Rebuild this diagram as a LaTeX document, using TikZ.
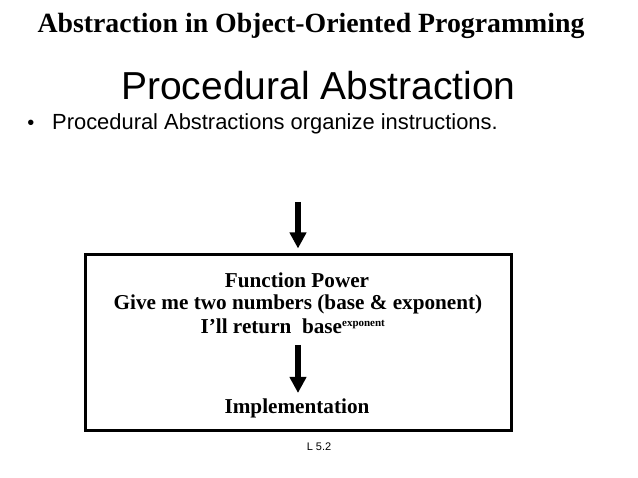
\documentclass[tikz,border=0pt]{standalone}
\usepackage{fontspec}
\setmainfont{Liberation Serif}
\setsansfont{Liberation Sans}
\usetikzlibrary{arrows.meta}
\begin{document}
\begin{tikzpicture}[x=1pt,y=1pt,
  bigarrow/.style={line width=6pt,-{Triangle[width=16pt,length=16pt]}},
  boxtext/.style={font=\fontsize{21.2}{23}\selectfont\bfseries\rmfamily,inner sep=0pt,anchor=base}]
\useasboundingbox (0,0) rectangle (638,-478);
\node[inner sep=0pt,anchor=base,font=\fontsize{27.8}{30}\selectfont\bfseries\rmfamily] (title) at (311,-33) {Abstraction in Object-Oriented Programming};
\node[inner sep=0pt,anchor=base,font=\fontsize{39}{42}\selectfont\sffamily] (head) at (318.5,-100) {Procedural Abstraction};
\node[inner sep=0pt,anchor=base,font=\fontsize{20}{22}\selectfont\sffamily] (bullet) at (31,-130) {•};
\node[inner sep=0pt,anchor=base west,font=\fontsize{21.9}{24}\selectfont\sffamily] (btext) at (52,-130) {Procedural Abstractions organize instructions.};
\node[draw,line width=3pt,minimum width=426pt,minimum height=176pt,inner sep=0pt] (box) at (298,-343) {};
\coordinate (start) at (298,-202);
\draw[bigarrow,shorten >=5pt] (start) -- (box.north);
\node[boxtext] (l1) at (297,-288) {Function Power};
\node[boxtext] (l2) at (298,-310) {Give me two numbers (base \& exponent)};
\node[boxtext] (l3) at (293,-334) {I’ll return\ \ base\textsuperscript{\fontsize{11}{12}\selectfont exponent}};
\node[boxtext] (impl) at (297,-414) {Implementation};
\coordinate (a2) at (298,-345);
\coordinate (b2) at (298,-393);
\draw[bigarrow] (a2) -- (b2);
\node[inner sep=0pt,anchor=base,font=\fontsize{11}{13}\selectfont\sffamily] (page) at (319,-451) {L 5.2};
\end{tikzpicture}
\end{document}
